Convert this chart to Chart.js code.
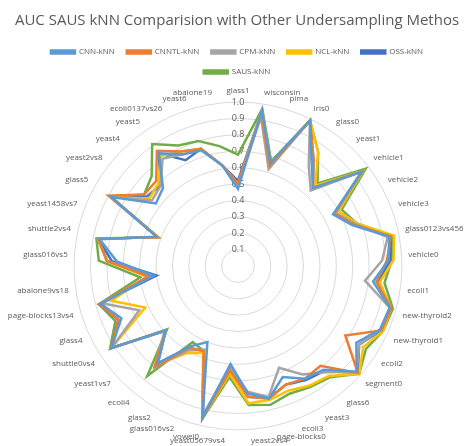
<!DOCTYPE html>
<html><head><meta charset="utf-8">
<script src="https://cdn.jsdelivr.net/npm/chart.js@4"></script>
<style>html,body{margin:0;padding:0;background:#fff}#w{width:474px;height:446px}</style>
</head><body><div id="w"><canvas id="c"></canvas></div>
<script>
const categories = ["glass1","wisconsin","pima","iris0","glass0","yeast1","vehicle1","vehicle2","vehicle3","glass0123vs456","vehicle0","ecoli1","new-thyroid2","new-thyroid1","ecoli2","segment0","glass6","yeast3","ecoli3","page-blocks0","yeast2vs4","yeast05679vs4","vowel0","glass016vs2","glass2","ecoli4","yeast1vs7","shuttle0vs4","glass4","page-blocks13vs4","abalone9vs18","glass016vs5","shuttle2vs4","yeast1458vs7","glass5","yeast2vs8","yeast4","yeast5","ecoli0137vs26","yeast6","abalone19"];
const cnnKnn   = [0.47,0.96,0.66,0.99,0.78,0.66,0.95,0.66,0.74,0.94,0.92,0.83,0.96,0.95,0.86,0.97,0.82,0.80,0.73,0.83,0.78,0.60,0.95,0.50,0.57,0.77,0.59,0.92,0.78,0.87,0.52,0.74,0.86,0.53,0.88,0.63,0.66,0.84,0.76,0.74,0.62];
const cnntlKnn = [0.50,0.94,0.64,0.99,0.80,0.66,0.95,0.67,0.75,0.95,0.91,0.85,0.97,0.96,0.78,0.98,0.79,0.80,0.78,0.83,0.80,0.64,0.95,0.56,0.58,0.80,0.59,0.92,0.80,0.88,0.55,0.80,0.87,0.52,0.90,0.72,0.72,0.86,0.78,0.75,0.62];
const cpmKnn   = [0.50,0.92,0.62,0.99,0.75,0.64,0.95,0.68,0.76,0.93,0.88,0.78,0.96,0.95,0.88,0.97,0.84,0.77,0.67,0.82,0.77,0.62,0.93,0.55,0.60,0.80,0.60,0.92,0.66,0.86,0.53,0.80,0.87,0.52,0.88,0.66,0.68,0.80,0.76,0.75,0.62];
const nclKnn   = [0.50,0.96,0.66,0.99,0.85,0.68,0.96,0.70,0.77,0.97,0.95,0.87,0.97,0.97,0.91,0.99,0.87,0.85,0.82,0.84,0.84,0.66,0.95,0.57,0.62,0.78,0.59,0.92,0.62,0.80,0.56,0.80,0.87,0.52,0.88,0.68,0.70,0.82,0.78,0.75,0.62];
const ossKnn   = [0.52,0.96,0.66,0.99,0.80,0.66,0.95,0.67,0.75,0.95,0.93,0.86,0.97,0.96,0.88,0.98,0.83,0.81,0.78,0.83,0.80,0.63,0.95,0.56,0.58,0.77,0.59,0.92,0.80,0.88,0.50,0.77,0.87,0.52,0.88,0.70,0.68,0.84,0.72,0.75,0.62];
const sausKnn  = [0.68,0.97,0.67,0.99,0.85,0.70,0.98,0.72,0.77,0.96,0.94,0.90,0.98,0.97,0.93,0.99,0.88,0.86,0.84,0.87,0.85,0.68,0.96,0.56,0.54,0.87,0.58,0.93,0.82,0.88,0.60,0.85,0.88,0.52,0.88,0.72,0.76,0.91,0.82,0.80,0.74];
const seriesNames = ["CNN-kNN","CNNTL-kNN","CPM-kNN","NCL-kNN","OSS-kNN","SAUS-kNN"];
const seriesValues = [cnnKnn,cnntlKnn,cpmKnn,nclKnn,ossKnn,sausKnn];
const colors = ["#5B9BD5","#ED7D31","#A5A5A5","#FFC000","#4472C4","#70AD47"];

new Chart(document.getElementById('c'), {
  type: 'radar',
  data: {
    labels: categories,
    datasets: seriesNames.map((n,i)=>({
      label: n, data: seriesValues[i], borderColor: colors[i], backgroundColor: colors[i],
      borderWidth: 2.5, pointRadius: 0, fill: false, tension: 0
    }))
  },
  options: {
    responsive: true, maintainAspectRatio: false, animation: false,
    layout: { padding: { top: 4, bottom: 0, left: 0, right: 0 } },
    plugins: {
      title: { display: true, text: "AUC SAUS kNN Comparision with Other Undersampling Methos",
        color: '#595959', font: { family: 'Open Sans', size: 15, weight: 'normal' }, padding: { top: 8, bottom: 6 } },
      legend: { position: 'top', labels: { color: '#595959', font: { family: 'Open Sans', size: 8 },
        boxWidth: 24, boxHeight: 3, padding: 12 } }
    },
    scales: {
      r: {
        min: 0, max: 1,
        ticks: { stepSize: 0.1, color: '#595959', showLabelBackdrop: false, font: { family: 'Open Sans', size: 9 } },
        grid: { color: '#D9D9D9', circular: true },
        angleLines: { display: false },
        pointLabels: { color: '#595959', font: { family: 'Open Sans', size: 8 }, padding: 0 }
      }
    }
  }
});
</script></body></html>
